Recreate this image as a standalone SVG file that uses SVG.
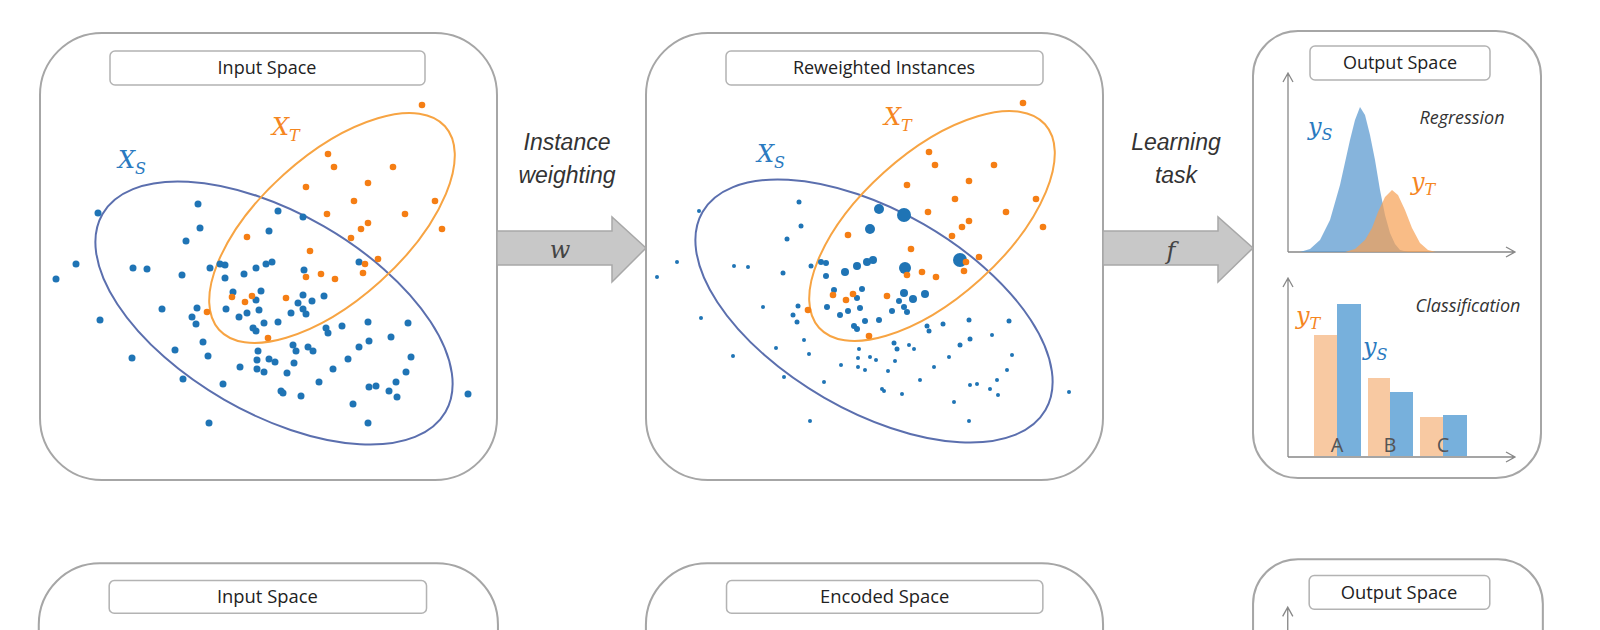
<svg xmlns="http://www.w3.org/2000/svg" width="1600" height="630" viewBox="0 0 1600 630">
<style>
.panel{fill:#fff;stroke:#a6a6a6;stroke-width:2}
.lbl{fill:#fff;stroke:#b3b3b3;stroke-width:1.5}
.lt{font-family:"Open Sans",sans-serif;font-size:18px;fill:#222;text-anchor:middle}
.it{font-family:"Liberation Sans",sans-serif;font-style:italic;font-size:23px;fill:#333;text-anchor:middle}
.math{font-family:"DejaVu Serif",serif;font-style:italic;font-size:24px}
.sub{font-size:16px}
.arr{fill:#c8c8c8;stroke:#a8a8a8;stroke-width:1.5}
.ax{fill:none;stroke:#888;stroke-width:1.3}
.sub2{font-family:"Open Sans",sans-serif;font-style:italic;font-size:18px;fill:#333;text-anchor:middle}
</style>
<defs>
<g id="bdots">
<circle cx="98" cy="213" r="3.5"/><circle cx="198" cy="204" r="3.5"/><circle cx="200" cy="228" r="3.5"/><circle cx="186" cy="241" r="3.5"/><circle cx="76" cy="264" r="3.5"/><circle cx="56" cy="279" r="3.5"/><circle cx="133" cy="268" r="3.5"/><circle cx="147" cy="269" r="3.5"/><circle cx="182" cy="275" r="3.5"/><circle cx="162" cy="309" r="3.5"/><circle cx="192" cy="317" r="3.5"/><circle cx="196" cy="324" r="3.5"/><circle cx="100" cy="320" r="3.5"/><circle cx="197" cy="308" r="3.5"/><circle cx="210" cy="268" r="3.5"/>
<circle cx="326" cy="328" r="3.5"/><circle cx="328" cy="333" r="3.5"/><circle cx="342" cy="326" r="3.5"/><circle cx="368" cy="322" r="3.5"/><circle cx="408" cy="323" r="3.5"/><circle cx="391" cy="337" r="3.5"/><circle cx="203" cy="342" r="3.5"/><circle cx="175" cy="350" r="3.5"/><circle cx="258" cy="351" r="3.5"/><circle cx="293" cy="345" r="3.5"/><circle cx="296" cy="351" r="3.5"/><circle cx="308" cy="347" r="3.5"/><circle cx="313" cy="351" r="3.5"/><circle cx="369" cy="341" r="3.5"/><circle cx="359" cy="347" r="3.5"/><circle cx="132" cy="358" r="3.5"/><circle cx="208" cy="356" r="3.5"/><circle cx="257" cy="360" r="3.5"/><circle cx="269" cy="359" r="3.5"/><circle cx="275" cy="362" r="3.5"/><circle cx="294" cy="363" r="3.5"/><circle cx="348" cy="359" r="3.5"/><circle cx="411" cy="357" r="3.5"/><circle cx="240" cy="367" r="3.5"/><circle cx="257" cy="369" r="3.5"/><circle cx="264" cy="372" r="3.5"/><circle cx="287" cy="373" r="3.5"/><circle cx="333" cy="369" r="3.5"/><circle cx="406" cy="372" r="3.5"/><circle cx="183" cy="379" r="3.5"/><circle cx="223" cy="384" r="3.5"/><circle cx="319" cy="382" r="3.5"/><circle cx="396" cy="382" r="3.5"/><circle cx="369" cy="387" r="3.5"/><circle cx="376" cy="386" r="3.5"/><circle cx="389" cy="391" r="3.5"/><circle cx="281" cy="391" r="3.5"/><circle cx="283" cy="393" r="3.5"/><circle cx="301" cy="396" r="3.5"/><circle cx="397" cy="397" r="3.5"/><circle cx="468" cy="394" r="3.5"/><circle cx="353" cy="404" r="3.5"/><circle cx="209" cy="423" r="3.5"/><circle cx="368" cy="423" r="3.5"/>
</g>
<g id="odots">
<circle cx="422" cy="105" r="3.3"/><circle cx="328" cy="154" r="3.3"/><circle cx="334" cy="167" r="3.3"/><circle cx="393" cy="167" r="3.3"/><circle cx="368" cy="183" r="3.3"/><circle cx="306" cy="187" r="3.3"/><circle cx="354" cy="201" r="3.3"/><circle cx="435" cy="201" r="3.3"/><circle cx="327" cy="214" r="3.3"/><circle cx="405" cy="214" r="3.3"/><circle cx="368" cy="223" r="3.3"/><circle cx="361" cy="229" r="3.3"/><circle cx="442" cy="229" r="3.3"/><circle cx="351" cy="238" r="3.3"/><circle cx="247" cy="237" r="3.3"/><circle cx="310" cy="251" r="3.3"/><circle cx="378" cy="259" r="3.3"/><circle cx="365" cy="264" r="3.3"/><circle cx="306" cy="277" r="3.3"/><circle cx="321" cy="274" r="3.3"/><circle cx="335" cy="279" r="3.3"/><circle cx="363" cy="273" r="3.3"/><circle cx="232" cy="297" r="3.3"/><circle cx="252" cy="296" r="3.3"/><circle cx="245" cy="302" r="3.3"/><circle cx="286" cy="298" r="3.3"/><circle cx="207" cy="312" r="3.3"/><circle cx="268" cy="338" r="3.3"/>
</g>
<g id="ell">
<ellipse cx="274" cy="313" rx="198" ry="100" transform="rotate(30 274 313)" fill="none" stroke="#5b6fae" stroke-width="2"/>
<ellipse cx="332" cy="228" rx="152" ry="72" transform="rotate(-42 332 228)" fill="none" stroke="#f7a443" stroke-width="2"/>
</g>
</defs>

<g id="input-space">
<rect class="panel" x="40" y="33" width="457" height="447" rx="62"/>
<rect class="lbl" x="110" y="51" width="315" height="34" rx="5"/>
<text class="lt" x="267" y="74">Input Space</text>
<use href="#ell"/>
<use href="#bdots" fill="#1f74b5"/>
<g fill="#1f74b5">
<circle cx="278" cy="211" r="3.5"/><circle cx="303" cy="217" r="3.5"/><circle cx="269" cy="231" r="3.5"/><circle cx="220" cy="264" r="3.5"/><circle cx="225" cy="265" r="3.5"/><circle cx="225" cy="278" r="3.5"/><circle cx="244" cy="274" r="3.5"/><circle cx="256" cy="268" r="3.5"/><circle cx="266" cy="264" r="3.5"/><circle cx="272" cy="262" r="3.5"/><circle cx="304" cy="270" r="3.5"/><circle cx="359" cy="262" r="3.5"/><circle cx="233" cy="292" r="3.5"/><circle cx="261" cy="291" r="3.5"/><circle cx="256" cy="300" r="3.5"/><circle cx="303" cy="295" r="3.5"/><circle cx="324" cy="296" r="3.5"/><circle cx="312" cy="301" r="3.5"/><circle cx="298" cy="303" r="3.5"/><circle cx="226" cy="309" r="3.5"/><circle cx="259" cy="310" r="3.5"/><circle cx="247" cy="313" r="3.5"/><circle cx="239" cy="317" r="3.5"/><circle cx="303" cy="309" r="3.5"/><circle cx="306" cy="314" r="3.5"/><circle cx="291" cy="313" r="3.5"/><circle cx="264" cy="323" r="3.5"/><circle cx="278" cy="322" r="3.5"/><circle cx="253" cy="328" r="3.5"/><circle cx="256" cy="331" r="3.5"/>
</g>
<use href="#odots" fill="#f57e14"/>
<text class="math" x="118" y="168" fill="#2a7ac0">X<tspan class="sub" dy="6">S</tspan></text>
<text class="math" x="272" y="135" fill="#f5861f">X<tspan class="sub" dy="6">T</tspan></text>
</g>

<g id="reweighted-instances">
<rect class="panel" x="646" y="33" width="457" height="447" rx="62"/>
<rect class="lbl" x="726" y="51" width="317" height="34" rx="5"/>
<text class="lt" x="884" y="74">Reweighted Instances</text>
<use href="#ell" transform="translate(600,-2)"/>
<g fill="#1f74b5" transform="translate(601,-2)">
<circle cx="98" cy="213" r="2"/><circle cx="198" cy="204" r="2.5"/><circle cx="200" cy="228" r="2.5"/><circle cx="186" cy="241" r="2.5"/><circle cx="76" cy="264" r="2"/><circle cx="56" cy="279" r="2"/><circle cx="133" cy="268" r="2"/><circle cx="147" cy="269" r="2"/><circle cx="182" cy="275" r="2.5"/><circle cx="162" cy="309" r="2"/><circle cx="192" cy="317" r="2.5"/><circle cx="196" cy="324" r="2.5"/><circle cx="100" cy="320" r="2"/><circle cx="197" cy="308" r="2.5"/><circle cx="210" cy="268" r="2.5"/>
<circle cx="326" cy="328" r="2.5"/><circle cx="328" cy="333" r="2.5"/><circle cx="342" cy="326" r="2.5"/><circle cx="368" cy="322" r="2.5"/><circle cx="408" cy="323" r="2.5"/><circle cx="391" cy="337" r="2"/><circle cx="203" cy="342" r="2"/><circle cx="175" cy="350" r="2"/><circle cx="258" cy="351" r="2"/><circle cx="293" cy="345" r="2.5"/><circle cx="296" cy="351" r="2.5"/><circle cx="308" cy="347" r="2"/><circle cx="313" cy="351" r="2"/><circle cx="369" cy="341" r="2.5"/><circle cx="359" cy="347" r="2.5"/><circle cx="132" cy="358" r="2"/><circle cx="208" cy="356" r="2"/><circle cx="257" cy="360" r="2"/><circle cx="269" cy="359" r="2"/><circle cx="275" cy="362" r="2"/><circle cx="294" cy="363" r="2"/><circle cx="348" cy="359" r="2"/><circle cx="411" cy="357" r="2"/><circle cx="240" cy="367" r="2"/><circle cx="257" cy="369" r="2"/><circle cx="264" cy="372" r="2"/><circle cx="287" cy="373" r="2"/><circle cx="333" cy="369" r="2"/><circle cx="406" cy="372" r="2"/><circle cx="183" cy="379" r="2"/><circle cx="223" cy="384" r="2"/><circle cx="319" cy="382" r="2"/><circle cx="396" cy="382" r="2"/><circle cx="369" cy="387" r="2"/><circle cx="376" cy="386" r="2"/><circle cx="389" cy="391" r="2"/><circle cx="281" cy="391" r="2"/><circle cx="283" cy="393" r="2"/><circle cx="301" cy="396" r="2"/><circle cx="397" cy="397" r="2"/><circle cx="468" cy="394" r="2"/><circle cx="353" cy="404" r="2"/><circle cx="209" cy="423" r="2"/><circle cx="368" cy="423" r="2"/>
<circle cx="278" cy="211" r="5"/><circle cx="303" cy="217" r="7"/><circle cx="269" cy="231" r="5"/><circle cx="220" cy="264" r="3"/><circle cx="225" cy="265" r="3"/><circle cx="225" cy="278" r="3"/><circle cx="244" cy="274" r="4"/><circle cx="256" cy="268" r="4"/><circle cx="266" cy="264" r="4"/><circle cx="272" cy="262" r="4"/><circle cx="304" cy="270" r="6"/><circle cx="359" cy="262" r="7"/><circle cx="233" cy="292" r="3"/><circle cx="261" cy="291" r="3"/><circle cx="256" cy="300" r="3"/><circle cx="303" cy="295" r="4"/><circle cx="324" cy="296" r="4"/><circle cx="312" cy="301" r="4"/><circle cx="298" cy="303" r="3"/><circle cx="226" cy="309" r="3"/><circle cx="259" cy="310" r="3"/><circle cx="247" cy="313" r="3"/><circle cx="239" cy="317" r="3"/><circle cx="303" cy="309" r="3"/><circle cx="306" cy="314" r="3"/><circle cx="291" cy="313" r="3"/><circle cx="264" cy="323" r="3"/><circle cx="278" cy="322" r="3"/><circle cx="253" cy="328" r="3"/><circle cx="256" cy="331" r="3"/>
</g>
<use href="#odots" fill="#f57e14" transform="translate(601,-2)"/>
<text class="math" x="757" y="162" fill="#2a7ac0">X<tspan class="sub" dy="6">S</tspan></text>
<text class="math" x="884" y="125" fill="#f5861f">X<tspan class="sub" dy="6">T</tspan></text>
</g>

<g id="output-space">
<rect class="panel" x="1253" y="31" width="288" height="447" rx="45"/>
<rect class="lbl" x="1310" y="46" width="180" height="34" rx="5"/>
<text class="lt" x="1400" y="69">Output Space</text>
<path class="ax" d="M1288 252 V73 M1283 82 L1288 73 L1293 82 M1288 252 H1515 M1506 247 L1515 252 L1506 257"/>
<path d="M1300 252 L1310 249 L1320 240 L1330 220 L1340 185 L1350 140 L1355 120 L1360 107 L1365 115 L1370 135 L1375 160 L1380 190 L1385 215 L1390 233 L1395 244 L1400 250 L1408 252 Z" fill="#5d9bd0" fill-opacity="0.75"/>
<path d="M1345 252 L1355 249 L1365 240 L1372 228 L1378 212 L1385 197 L1392 190 L1398 195 L1405 210 L1412 228 L1420 243 L1428 250 L1436 252 Z" fill="#f7a052" fill-opacity="0.7"/>
<text class="math" x="1308" y="135" fill="#2a7ac0" font-size="28">y<tspan class="sub" dy="5">S</tspan></text>
<text class="sub2" x="1462" y="124">Regression</text>
<text class="math" x="1411" y="190" fill="#f5861f" font-size="28">y<tspan class="sub" dy="5">T</tspan></text>
<path class="ax" d="M1288 457 V278 M1283 287 L1288 278 L1293 287 M1288 457 H1515 M1506 452 L1515 457 L1506 462"/>
<rect x="1314" y="335" width="23" height="121" fill="#f8c9a2"/>
<rect x="1337" y="304" width="24" height="152" fill="#77b0dc"/>
<rect x="1368" y="378" width="22" height="78" fill="#f8c9a2"/>
<rect x="1390" y="392" width="23" height="64" fill="#77b0dc"/>
<rect x="1420" y="417" width="23" height="39" fill="#f8c9a2"/>
<rect x="1443" y="415" width="24" height="41" fill="#77b0dc"/>
<text x="1337" y="452" font-family="Open Sans,sans-serif" font-size="20" fill="#555" text-anchor="middle">A</text>
<text x="1390" y="452" font-family="Open Sans,sans-serif" font-size="20" fill="#555" text-anchor="middle">B</text>
<text x="1443" y="452" font-family="Open Sans,sans-serif" font-size="20" fill="#555" text-anchor="middle">C</text>
<text class="math" x="1296" y="324" fill="#f5861f" font-size="28">y<tspan class="sub" dy="5">T</tspan></text>
<text class="math" x="1363" y="355" fill="#2a7ac0" font-size="28">y<tspan class="sub" dy="5">S</tspan></text>
<text class="sub2" x="1468" y="312">Classification</text>
</g>

<g id="connectors">
<path class="arr" d="M497 231 H612 V217 L646 248 L612 282 V265 H497 Z"/>
<path class="arr" d="M1103 231 H1218 V217 L1253 248 L1218 282 V265 H1103 Z"/>
<text class="it" x="567" y="150">Instance</text>
<text class="it" x="567" y="183">weighting</text>
<text class="math" x="560" y="258" font-size="20" fill="#444" text-anchor="middle">w</text>
<text class="it" x="1176" y="150">Learning</text>
<text class="it" x="1176" y="183">task</text>
<text class="math" x="1171" y="259" font-size="20" fill="#444" text-anchor="middle">f</text>
</g>

<g transform="scale(1.0204)">
<g id="input-space-2">
<rect class="panel" x="38" y="552" width="450" height="200" rx="60"/>
<rect class="lbl" x="107" y="569" width="311" height="32" rx="5"/>
<text class="lt" x="262" y="591">Input Space</text>
</g>
<g id="encoded-space">
<rect class="panel" x="633" y="552" width="448" height="200" rx="60"/>
<rect class="lbl" x="712" y="569" width="310" height="32" rx="5"/>
<text class="lt" x="867" y="591">Encoded Space</text>
</g>
<g id="output-space-2">
<rect class="panel" x="1228" y="548" width="284" height="200" rx="44"/>
<rect class="lbl" x="1283" y="564" width="177" height="33" rx="5"/>
<text class="lt" x="1371" y="587">Output Space</text>
<path class="ax" d="M1262 640 V595 M1257 604 L1262 595 L1267 604"/>
</g>
</g>
</svg>
